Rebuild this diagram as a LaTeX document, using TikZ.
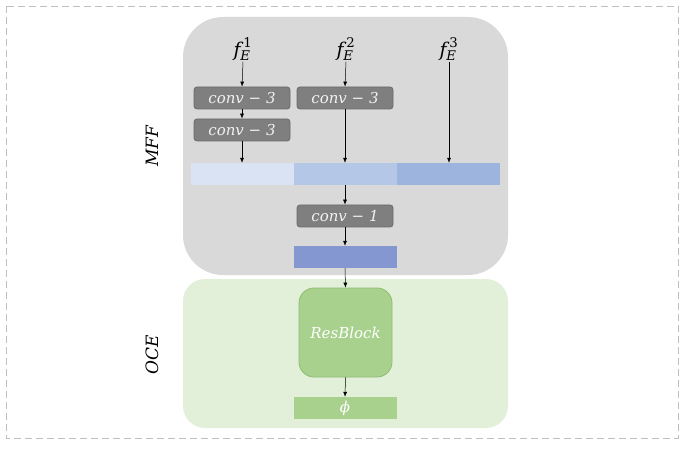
\documentclass[tikz,border=0pt]{standalone}
\usepackage{fontspec}
\usepackage{amsmath}
\newfontfamily\labfont{DejaVu Serif}
\usetikzlibrary{arrows.meta}
\definecolor{outerdash}{HTML}{BFBFBF}
\definecolor{mffbg}{HTML}{D9D9D9}
\definecolor{ocebg}{HTML}{E2EFD9}
\definecolor{convfill}{HTML}{7F7F7F}
\definecolor{convdraw}{HTML}{6A6A6A}
\definecolor{convtext}{HTML}{F2F2F2}
\definecolor{barA}{HTML}{DAE3F3}
\definecolor{barB}{HTML}{B4C7E7}
\definecolor{barC}{HTML}{9DB4DF}
\definecolor{barD}{HTML}{8497D0}
\definecolor{resfill}{HTML}{A9D18E}
\definecolor{resdraw}{HTML}{8FBC72}
\newcommand{\feattext}[1]{$\text{\labfont\itshape f\/}^{\text{\labfont #1}}_{\kern-3pt\text{\labfont\itshape E}}$}
\newcommand{\convtext}[1]{\labfont\itshape conv \symbol{"2212} #1}
\begin{document}
\begin{tikzpicture}[x=1pt,y=-1pt,
  convbox/.style={draw=convdraw,line width=0.8pt,fill=convfill,rounded corners=3pt,minimum width=96pt,minimum height=22pt,inner sep=0pt,text=convtext,font=\fontsize{15}{17}\selectfont},
  barbox/.style={minimum width=103pt,minimum height=22pt,inner sep=0pt,draw=none},
  feat/.style={font=\fontsize{19}{21}\selectfont,inner sep=1pt},
  arr/.style={-{Latex[length=5pt,width=4pt]},line width=0.5pt,black},
  sidelabel/.style={rotate=90,font=\fontsize{17}{19}\selectfont\labfont\itshape}]
\useasboundingbox (0,0) rectangle (688,449);
\draw[outerdash,dashed,dash pattern=on 7pt off 4pt,line width=0.8pt] (6,6) rectangle (678,438);
\fill[mffbg,rounded corners=40pt] (183,17) rectangle (508,275);
\fill[ocebg,rounded corners=22pt] (183,279) rectangle (508,428);
\node[sidelabel] (mff) at (152,146) {MFF};
\node[sidelabel] (oce) at (152,355) {OCE};
\node[feat] (f1) at (243,49) {\feattext{1}};
\node[feat] (f2) at (346,49) {\feattext{2}};
\node[feat] (f3) at (449,49) {\feattext{3}};
\node[convbox] (c1) at (242,98) {\convtext{3}};
\node[convbox] (c2) at (242,130) {\convtext{3}};
\node[convbox] (c3) at (345,98) {\convtext{3}};
\node[barbox,fill=barA] (b1) at (242.5,174) {};
\node[barbox,fill=barB] (b2) at (345,174) {};
\node[barbox,fill=barC] (b3) at (448.5,174) {};
\node[convbox] (c4) at (345,216) {\convtext{1}};
\node[barbox,fill=barD] (b4) at (345,257) {};
\node[draw=resdraw,line width=0.8pt,fill=resfill,rounded corners=15pt,minimum width=93pt,minimum height=89pt,inner sep=0pt,text=white,font=\fontsize{15}{17}\selectfont\labfont\itshape] (rb) at (345.5,332.5) {ResBlock};
\node[barbox,fill=resfill,text=white,font=\fontsize{15}{17}\selectfont\labfont\itshape] (phi) at (345,408) {\symbol{"03D5}};
\draw[arr] (f1.south) -- (c1.north);
\draw[arr] (c1.south) -- (c2.north);
\draw[arr] (c2.south) -- (c2.south |- b1.north);
\draw[arr] (f2.south) -- (c3.north);
\draw[arr] (c3.south) -- (c3.south |- b2.north);
\draw[arr] (f3.south) -- (f3.south |- b3.north);
\draw[arr] (b2.south) -- (c4.north);
\draw[arr] (c4.south) -- (b4.north);
\draw[arr] (b4.south) -- (rb.north);
\draw[arr] (rb.south) -- (phi.north);
\end{tikzpicture}
\end{document}
